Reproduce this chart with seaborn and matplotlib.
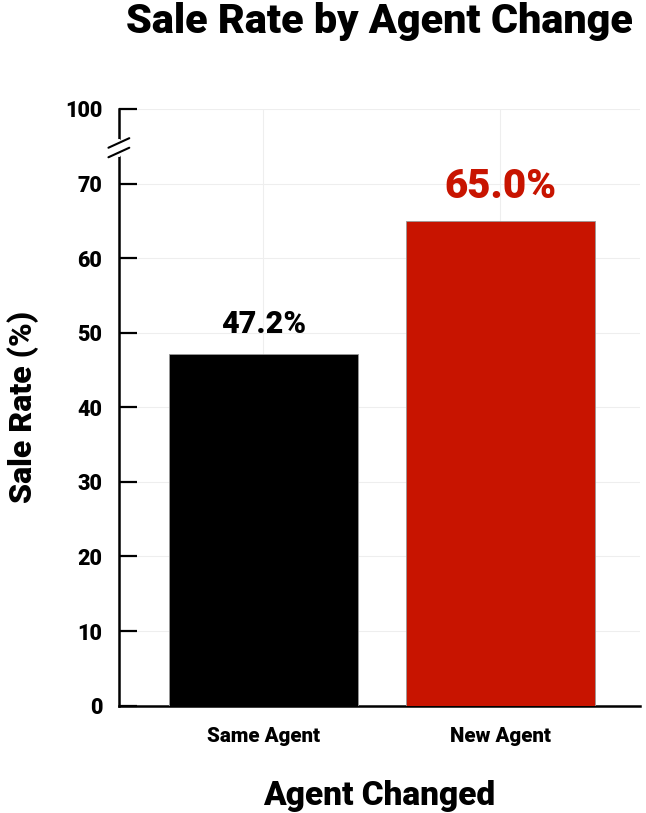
import matplotlib
matplotlib.use("Agg")
import matplotlib.pyplot as plt
import seaborn as sns
import pandas as pd

# Data
categories = ["Same Agent", "New Agent"]
sale_rate = [47.2, 65.0]
bar_colors = ["#000000", "#C81400"]
ytick_values = [0, 10, 20, 30, 40, 50, 60, 70, 80]
ytick_labels = ["0", "10", "20", "30", "40", "50", "60", "70", "100"]

df = pd.DataFrame({"Agent": categories, "Rate": sale_rate})

sns.set_style("white")
plt.rcParams["font.family"] = ["Roboto", "DejaVu Sans"]
plt.rcParams["text.color"] = "black"
plt.rcParams["axes.labelcolor"] = "black"
plt.rcParams["xtick.color"] = "black"
plt.rcParams["ytick.color"] = "black"

W = "black"  # heavy weight used for all text

fig = plt.figure(figsize=(6.46, 8.13), dpi=100)
ax = fig.add_axes([0.184, 0.132, 0.807, 0.734])

sns.barplot(data=df, x="Agent", y="Rate", hue="Agent", palette=bar_colors,
            saturation=1, width=0.8, legend=False, ax=ax,
            edgecolor="#999999", linewidth=0.6, zorder=3)

ax.set_xlim(-0.61, 1.59)
ax.set_ylim(0, 80)
ax.set_yticks(ytick_values)
ax.set_yticklabels(ytick_labels)

# grid
ax.grid(True, color="#eeeeee", linewidth=0.8, zorder=0)
ax.set_axisbelow(True)

# spines
for s in ["top", "right"]:
    ax.spines[s].set_visible(False)
for s in ["left", "bottom"]:
    ax.spines[s].set_linewidth(1.8)
    ax.spines[s].set_color("black")

ax.tick_params(axis="y", direction="in", length=13, width=1.6, labelsize=15.5, pad=12, left=True)
ax.tick_params(axis="x", length=0, labelsize=14.8, pad=15)
for lbl in ax.get_yticklabels() + ax.get_xticklabels():
    lbl.set_fontweight(W)

# axis break marks
yb = 0.935
ax.plot([0, 0], [yb - 0.012, yb + 0.012], color="white", transform=ax.transAxes,
        linewidth=3, clip_on=False, zorder=4)
for dy in (-0.008, 0.008):
    ax.plot([-0.02, 0.02], [yb + dy - 0.008, yb + dy + 0.008], transform=ax.transAxes,
            color="black", clip_on=False, linewidth=1.5, zorder=5)

# value labels
ax.text(0, sale_rate[0] + 2.0, f"{sale_rate[0]:.1f}%", ha="center", va="bottom",
        fontsize=22, fontweight=W, color=bar_colors[0])
ax.text(1, sale_rate[1] + 2.0, f"{sale_rate[1]:.1f}%", ha="center", va="bottom",
        fontsize=29, fontweight=W, color=bar_colors[1])

ax.set_title("Sale Rate by Agent Change", fontsize=29.8, fontweight=W, pad=55)
ax.set_xlabel("Agent Changed", fontsize=24, fontweight=W, labelpad=25)
ax.set_ylabel("Sale Rate (%)", fontsize=23, fontweight=W, labelpad=19)

fig.savefig("out.png", dpi=100)
